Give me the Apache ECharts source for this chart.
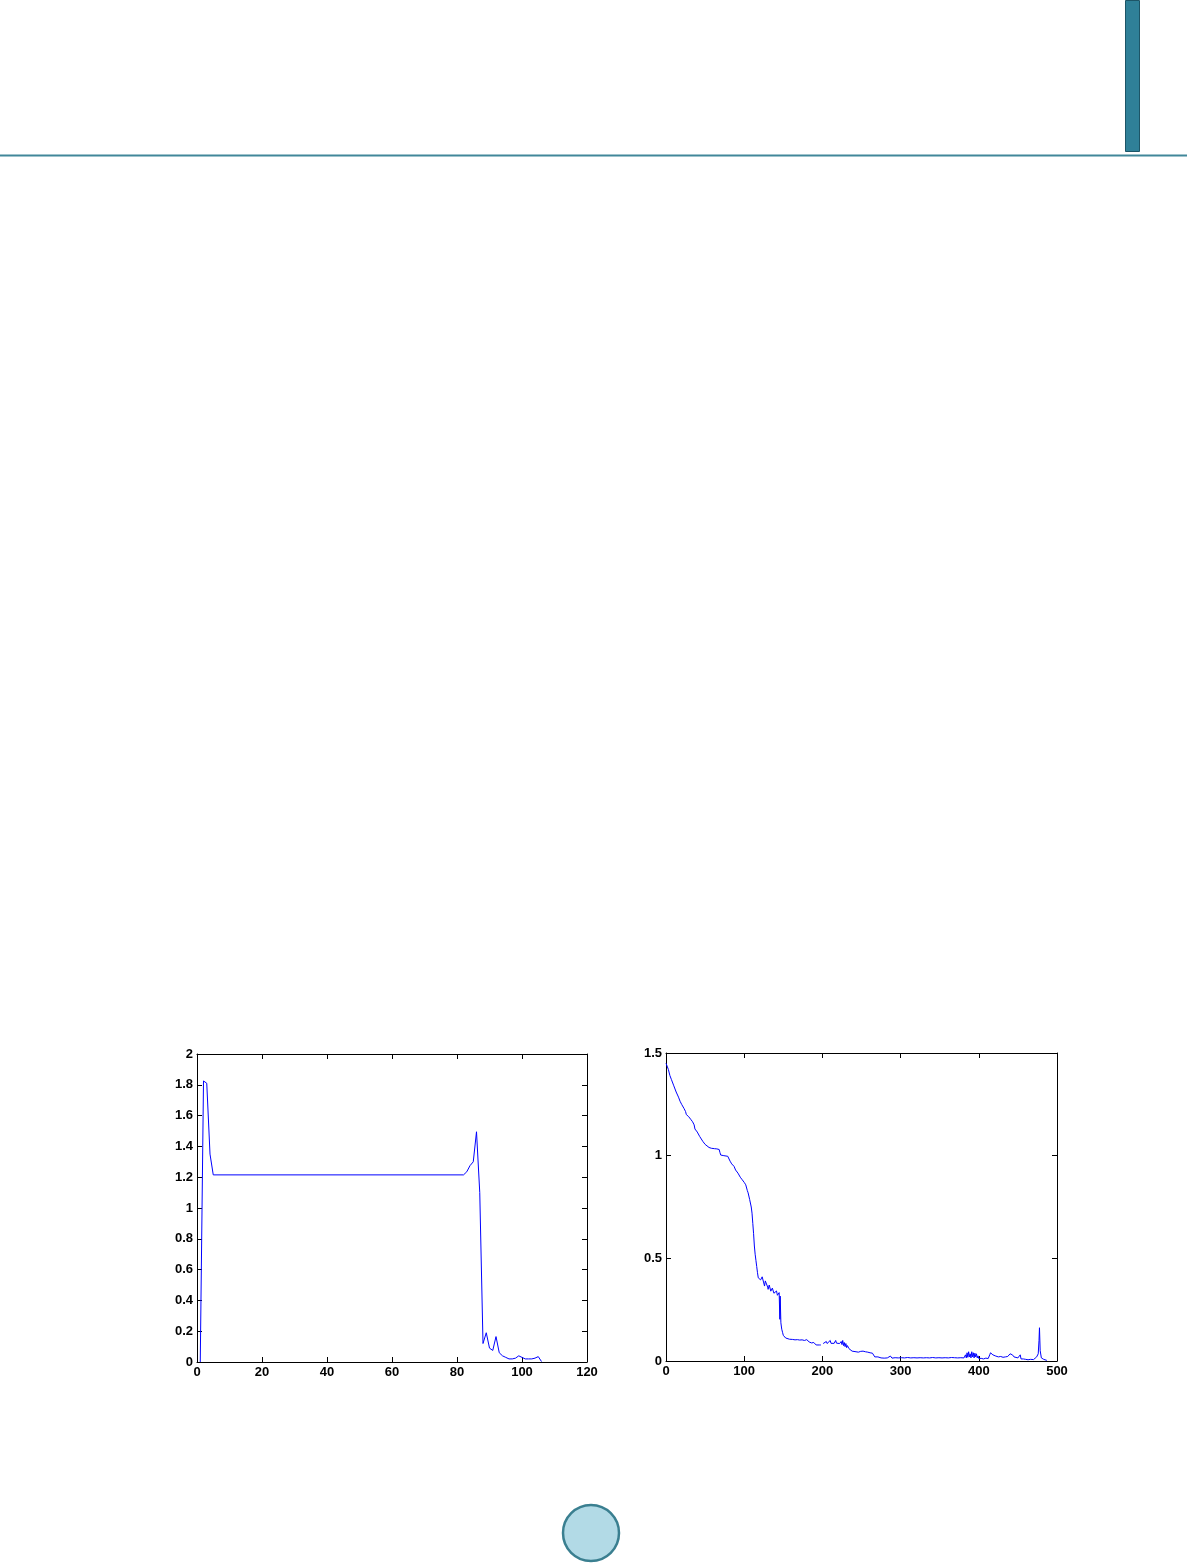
<!DOCTYPE html>
<html>
<head>
<meta charset="utf-8">
<script src="https://cdn.jsdelivr.net/npm/echarts@6/dist/echarts.min.js"></script>
<style>
html,body{margin:0;padding:0;background:#fff;}
#main{width:1187px;height:1564px;}
</style>
</head>
<body>
<div id="main"></div>
<script>
// ---- Data ----
const leftXTicks = [0, 20, 40, 60, 80, 100, 120];
const leftYTicks = [0, 0.2, 0.4, 0.6, 0.8, 1, 1.2, 1.4, 1.6, 1.8, 2];
const leftData = [
  [1,0],[2,1.825],[3,1.81],[4,1.35],[5,1.215],[82,1.215],[83,1.235],[84,1.275],[85,1.30],
  [86,1.495],[87,1.10],[88,0.12],[89,0.19],[90,0.09],[91,0.075],[92,0.165],[93,0.06],
  [94,0.04],[95,0.03],[96,0.02],[97,0.02],[98,0.025],[99,0.04],[100,0.03],[101,0.02],
  [102,0.02],[103,0.02],[104,0.025],[105,0.035],[106,0.003]
];

const rightXTicks = [0, 100, 200, 300, 400, 500];
const rightYTicks = [0, 0.5, 1, 1.5];
const rightData = [
  [0,1.45],[3,1.42],[5,1.39],[7,1.37],[10,1.34],[13,1.31],[16,1.285],[18,1.265],[20,1.25],
  [23,1.23],[25,1.215],[26,1.20],[29,1.19],[32,1.175],[34,1.165],[36,1.15],[37,1.13],[40,1.115],
  [43,1.094],[45,1.085],[47,1.07],[50,1.055],[52,1.046],[55,1.04],[58,1.036],[62,1.034],
  [65,1.033],[68,1.03],[69,1.015],[70,1.003],[74,1.0],[79,0.997],[81,0.99],[82,0.973],
  [84,0.96],[87,0.948],[89,0.93],[92,0.915],[95,0.895],[97,0.885],[100,0.87],[102,0.858],
  [104,0.83],[105,0.819],[107,0.786],[109,0.75],[110,0.72],[111,0.67],[112,0.62],[113,0.56],
  [114,0.52],[115,0.49],[116,0.46],[117,0.43],[118,0.405],[119,0.40],[120,0.414],[121,0.395],
  [122,0.389],[123,0.41],[124,0.405],[125,0.38],[126,0.365],[127,0.39],[128.5,0.389],[130,0.36],
  [130.6,0.349],[132,0.37],[132.8,0.373],[134,0.34],[134.9,0.333],[136,0.355],[137,0.357],
  [138,0.33],[139.2,0.324],[140,0.335],[141.3,0.341],[142.5,0.32],[143.5,0.316],[144.7,0.333],
  [145.6,0.203],[146,0.316],[146.9,0.186],[148,0.155],[149,0.14],[150,0.125],[151,0.119],
  [153,0.112],[155,0.108],[158,0.106],[162,0.105],[165,0.103],[168,0.104],[171,0.102],
  [174,0.103],[177,0.1],[180,0.104],[182,0.098],[183,0.093],[184,0.092],[185,0.1],[186,0.088],
  [188,0.081],[189,0.09],[190,0.085],[192,0.078],[194,0.08],[196,0.078],[198,0.078],[199.5,'-'],
  [201,0.085],[203,0.085],[205,0.095],[206,0.085],[208,0.087],[210,0.1],[211,0.086],[213,0.088],
  [215,0.086],[217,0.1],[218,0.087],[220,0.088],[222,0.085],[224,0.095],[225,0.08],[226,0.1],
  [227,0.075],[228,0.09],[229,0.07],[230,0.085],[231,0.065],[232,0.075],[234,0.06],[235,0.055],
  [236,0.06],[238,0.048],[240,0.042],[243,0.045],[246,0.043],[249,0.047],[252,0.048],[255,0.045],
  [258,0.043],[261,0.04],[264,0.038],[266,0.03],[267,0.02],[269,0.015],[271,0.02],[273,0.017],
  [275,0.015],[277,0.022],[279,0.014],[281,0.023],[283,0.015],[285,0.016],[287,0.024],[289,0.014],
  [291,0.022],[293,0.016],[295,0.025],[297,0.015],[299,0.023],[301,0.016],[303,0.024],[305,0.015],
  [307,0.022],[309,0.017],[311,0.025],[313,0.015],[315,0.022],[317,0.016],[319,0.023],[321,0.015],
  [323,0.021],[325,0.016],[327,0.024],[329,0.015],[331,0.02],[333,0.016],[335,0.023],[337,0.015],
  [339,0.022],[341,0.017],[343,0.024],[345,0.015],[347,0.021],[349,0.016],[351,0.023],[353,0.015],
  [355,0.022],[357,0.016],[359,0.024],[361,0.015],[363,0.022],[365,0.017],[367,0.023],[369,0.016],
  [371,0.022],[373,0.015],[375,0.024],[377,0.016],[379,0.022],[381,0.015],[383,0.03],[384,0.015],
  [385,0.04],[386,0.018],[387,0.045],[388,0.02],[389,0.035],[390,0.015],[391,0.045],[392,0.02],
  [393,0.04],[394,0.015],[395,0.038],[396,0.02],[397,0.035],[398,0.015],[399,0.025],[400,0.012],
  [403,0.013],[406,0.01],[409,0.014],[412,0.012],[414,0.03],[415,0.04],[416,0.035],[417,0.04],
  [418,0.03],[420,0.032],[421,0.025],[423,0.028],[425,0.02],[428,0.022],[431,0.018],[434,0.02],
  [437,0.022],[440,0.035],[442,0.04],[443,0.03],[445,0.02],[447,0.013],[450,0.015],[452,0.012],
  [453,0.03],[454,0.01],[457,0.01],[460,0.008],[463,0.006],[466,0.008],[470,0.007],[472,0.01],
  [474,0.02],[476,0.035],[477,0.1],[477.6,0.162],[478.5,0.05],[480,0.015],[483,0.008],[487,0.003]
];

// ---- Chart ----
const chart = echarts.init(document.getElementById('main'), null, {renderer: 'canvas'});
const labelFont = {color: '#000', fontFamily: 'Liberation Sans, Arial, sans-serif', fontWeight: 'bold', fontSize: 13};
const axLine = {show: true, onZero: false, lineStyle: {color: '#000', width: 1}};

function fmt(v){ return String(Math.round(v*10)/10); }

function xAxes(gi, ticks){
  const min = ticks[0], max = ticks[ticks.length-1], interval = ticks[1]-ticks[0];
  return [
    {type:'value', gridIndex:gi, position:'bottom', min, max, interval,
     axisLine: axLine, axisTick:{show:true, inside:true, length:5, lineStyle:{color:'#000'}},
     axisLabel: Object.assign({margin:4, formatter: fmt, showMinLabel:true, showMaxLabel:true}, labelFont),
     splitLine:{show:false}},
    {type:'value', gridIndex:gi, position:'top', min, max, interval,
     axisLine: axLine, axisTick:{show:true, inside:true, length:5, lineStyle:{color:'#000'}},
     axisLabel:{show:false}, splitLine:{show:false}}
  ];
}
function yAxes(gi, ticks){
  const min = ticks[0], max = ticks[ticks.length-1], interval = ticks[1]-ticks[0];
  return [
    {type:'value', gridIndex:gi, position:'left', min, max, interval,
     axisLine: axLine, axisTick:{show:true, inside:true, length:5, lineStyle:{color:'#000'}},
     axisLabel: Object.assign({margin:4, formatter: fmt, showMinLabel:true, showMaxLabel:true}, labelFont),
     splitLine:{show:false}},
    {type:'value', gridIndex:gi, position:'right', min, max, interval,
     axisLine: axLine, axisTick:{show:true, inside:true, length:5, lineStyle:{color:'#000'}},
     axisLabel:{show:false}, splitLine:{show:false}}
  ];
}

const option = {
  backgroundColor: '#ffffff',
  animation: false,
  grid: [
    {left: 197, top: 1054, width: 390, height: 308},
    {left: 666, top: 1053, width: 391, height: 308}
  ],
  xAxis: [...xAxes(0, leftXTicks), ...xAxes(1, rightXTicks)],
  yAxis: [...yAxes(0, leftYTicks), ...yAxes(1, rightYTicks)],
  series: [
    {type:'line', xAxisIndex:0, yAxisIndex:0, data:leftData, showSymbol:false, symbol:'none',
     lineStyle:{color:'#0000ff', width:1}, connectNulls:false},
    {type:'line', xAxisIndex:2, yAxisIndex:2, data:rightData, showSymbol:false, symbol:'none',
     lineStyle:{color:'#0000ff', width:1}, connectNulls:false}
  ],
  graphic: [
    {type:'rect', shape:{x:0, y:154.5, width:1187, height:2}, style:{fill:'#41879a'}},
    {type:'rect', shape:{x:1125.5, y:0.5, width:14, height:151}, style:{fill:'#2f8098', stroke:'#1d5567', lineWidth:1}},
    {type:'circle', shape:{cx:591, cy:1533, r:28}, style:{fill:'#b2dae6', stroke:'#3a7f90', lineWidth:2.5}}
  ]
};
chart.setOption(option);
</script>
</body>
</html>
